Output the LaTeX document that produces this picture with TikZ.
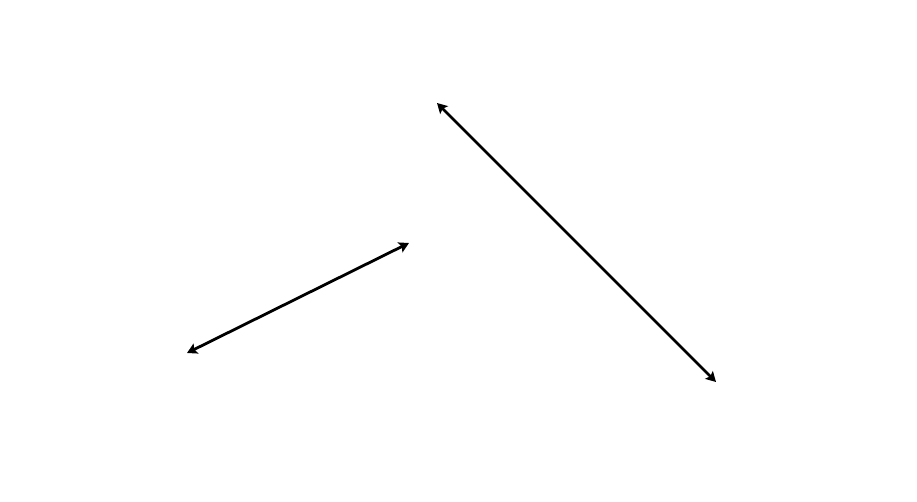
\documentclass[tikz,border=0pt]{standalone}
\usetikzlibrary{arrows.meta}

\begin{document}
\begin{tikzpicture}[x=1pt, y=-1pt]
    \useasboundingbox (0,0) rectangle (917,502);
    \coordinate (P) at (187,353);
    \coordinate (Q) at (409,243);
    \coordinate (R) at (437,103);
    \coordinate (S) at (716,382);
    \draw[line width=2.8pt, {Stealth[length=10pt,width=11pt,inset=2pt]}-{Stealth[length=10pt,width=11pt,inset=2pt]}] (P) -- (Q);
    \draw[line width=2.8pt, {Stealth[length=10pt,width=11pt,inset=2pt]}-{Stealth[length=10pt,width=11pt,inset=2pt]}] (R) -- (S);
    \end{tikzpicture}
\end{document}
